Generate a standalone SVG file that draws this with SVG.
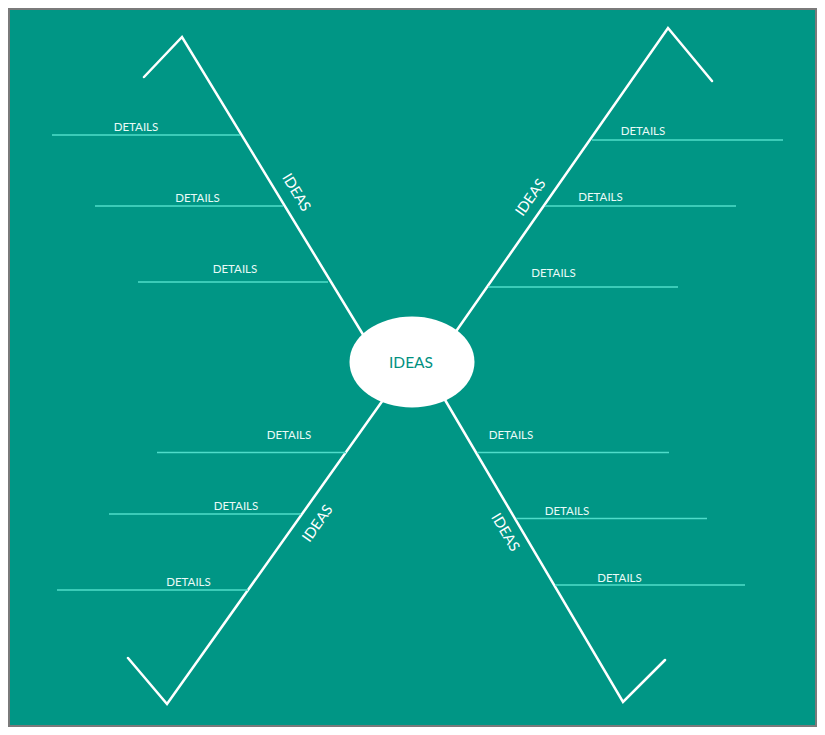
<svg xmlns="http://www.w3.org/2000/svg" width="825" height="735" viewBox="0 0 825 735">
<style>
.bg{fill:#009685;stroke:#7a7a7a;stroke-width:2}
.main{stroke:#ffffff;stroke-width:2.5;fill:none;stroke-linecap:round;stroke-linejoin:miter}
.det{stroke:#4fdcca;stroke-width:1.5}
.dt{font-family:Lato,"Liberation Sans",sans-serif;font-size:11.5px;fill:#eafaf7;text-anchor:middle}
.it{font-family:Lato,"Liberation Sans",sans-serif;font-size:14.5px;fill:#ffffff;text-anchor:middle;dominant-baseline:central}
.ct{font-family:Lato,"Liberation Sans",sans-serif;font-size:15.5px;fill:#00907f;text-anchor:middle;dominant-baseline:central}
</style>
<rect class="bg" x="9" y="9" width="807" height="717"/>
<g id="connectors">
<polyline class="main" points="144,77 182,37 370,346"/>
<polyline class="main" points="712,81 668,28 450,340"/>
<polyline class="main" points="128,658 167,704 388,393"/>
<polyline class="main" points="665,660 623,702 438,388"/>
<line class="det" x1="52" y1="135" x2="240" y2="135"/>
<line class="det" x1="95" y1="206" x2="283" y2="206"/>
<line class="det" x1="138" y1="282" x2="328" y2="282"/>
<line class="det" x1="592" y1="140" x2="783" y2="140"/>
<line class="det" x1="545" y1="206" x2="736" y2="206"/>
<line class="det" x1="488" y1="287" x2="678" y2="287"/>
<line class="det" x1="157" y1="452.5" x2="346" y2="452.5"/>
<line class="det" x1="109" y1="514" x2="301" y2="514"/>
<line class="det" x1="57" y1="590" x2="248" y2="590"/>
<line class="det" x1="477" y1="452.5" x2="669" y2="452.5"/>
<line class="det" x1="516" y1="518.5" x2="707" y2="518.5"/>
<line class="det" x1="555" y1="585" x2="745" y2="585"/>
</g>
<g id="center">
<ellipse cx="412" cy="362" rx="62.5" ry="45.5" fill="#ffffff"/>
<text class="ct" x="411" y="362">IDEAS</text>
</g>
<g id="branch-tl">
<text class="it" transform="translate(297,192) rotate(58.8)">IDEAS</text>
<text class="dt" x="136" y="131">DETAILS</text>
<text class="dt" x="197.5" y="202">DETAILS</text>
<text class="dt" x="235" y="273">DETAILS</text>
</g>
<g id="branch-tr">
<text class="it" transform="translate(530,197) rotate(-54.9)">IDEAS</text>
<text class="dt" x="643" y="135">DETAILS</text>
<text class="dt" x="600.5" y="201">DETAILS</text>
<text class="dt" x="553.5" y="277">DETAILS</text>
</g>
<g id="branch-bl">
<text class="it" transform="translate(317,523) rotate(-54.6)">IDEAS</text>
<text class="dt" x="289" y="439">DETAILS</text>
<text class="dt" x="236" y="510">DETAILS</text>
<text class="dt" x="188.5" y="585.5">DETAILS</text>
</g>
<g id="branch-br">
<text class="it" transform="translate(506,532) rotate(59.5)">IDEAS</text>
<text class="dt" x="511" y="439">DETAILS</text>
<text class="dt" x="567" y="515">DETAILS</text>
<text class="dt" x="619.5" y="581.5">DETAILS</text>
</g>
</svg>
